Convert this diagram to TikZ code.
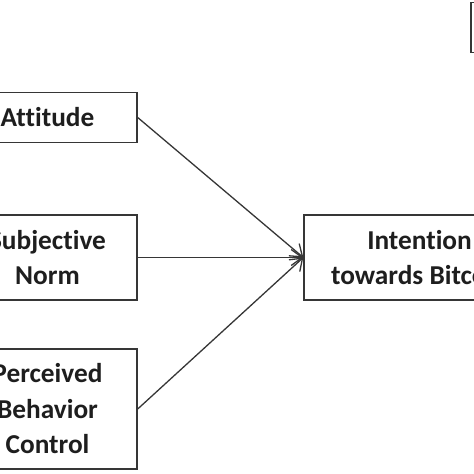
\documentclass[tikz,border=0pt]{standalone}
\usepackage{fontspec}
\setmainfont{Carlito}[Ligatures=NoCommon]
\usetikzlibrary{arrows.meta}
\usetikzlibrary{calc}

\definecolor{linegray}{HTML}{363636}
\definecolor{textgray}{HTML}{1E1E1E}

\begin{document}
\begin{tikzpicture}[x=1pt, y=-1pt]

  \path
    let
     \n{xl} = {47.5},
     \n{xr} = {419.5}
    in
     coordinate (attitude)   at (\n{xl}, 117.5)
     coordinate (subjective) at (\n{xl}, 257.5)
     coordinate (perceived)  at (\n{xl}, 409)
     coordinate (intention)  at (\n{xr}, 257.5)
     coordinate (note)       at (510, 27.5)
    ;

  % Frame
  \useasboundingbox (0,0) rectangle (474,474);
  \clip (0,0) rectangle (474,474);

  \tikzset{boxstyle/.style = {draw=linegray, line width=1.4pt, shape=rectangle, fill=white,
      text=textgray, align=center, font=\fontsize{27.3}{35.5}\selectfont\bfseries,
      inner sep=0pt, minimum width=179pt}}

  \node [boxstyle, minimum height=50pt] (Attitude) at (attitude) {Attitude};
  \node [boxstyle, minimum height=85pt] (Subjective) at (subjective) {Subjective\\Norm};
  \node [boxstyle, minimum height=120pt] (Perceived) at (perceived) {Perceived\\Behavior\\Control};
  \node [boxstyle, minimum height=85pt, minimum width=231pt] (Intention) at (intention) {Intention\\towards Bitcoin};

  \node [boxstyle, minimum height=50pt, minimum width=78pt] (Note) at (note) {};

  % Connecting arrows
  \tikzset{arrowstyle/.style = {draw=linegray, line width=1.3pt, -{Straight Barb[length=11pt, width=16pt]}}}

  \path [arrowstyle] (Attitude.east) -> (Intention.west);
  \path [arrowstyle] (Subjective.east) -> (Intention.west);
  \path [arrowstyle] (Perceived.east) -> (Intention.west);

\end{tikzpicture}
\end{document}
